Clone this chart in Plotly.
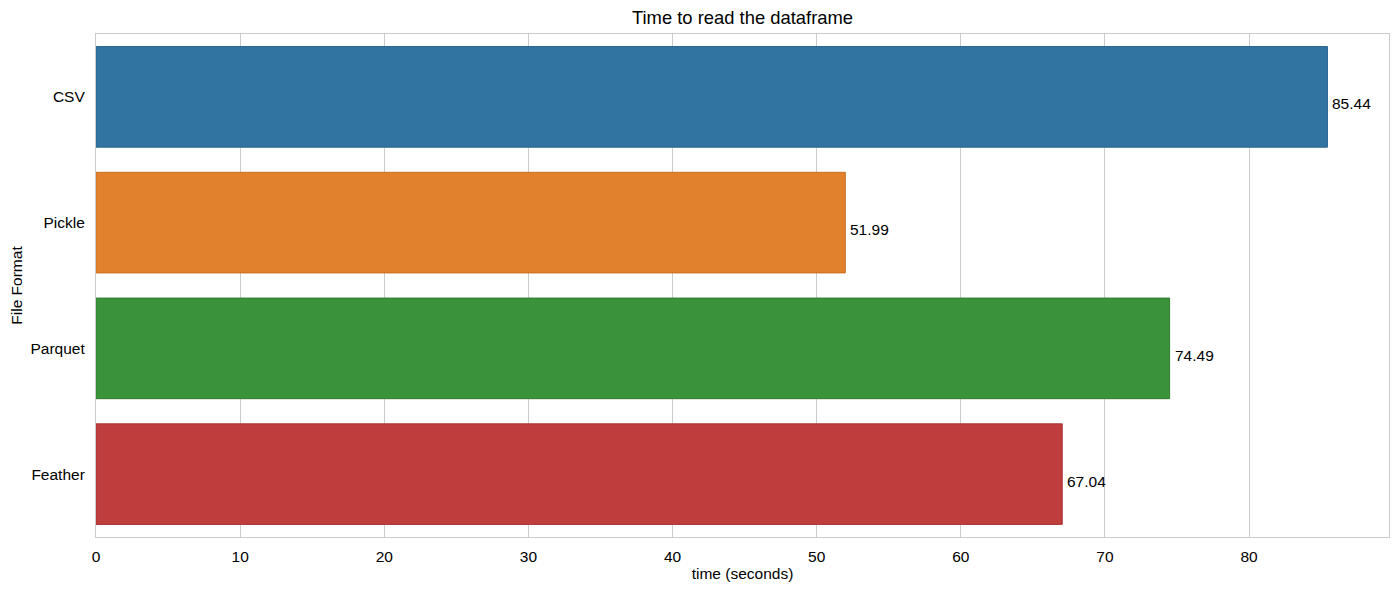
import plotly.graph_objects as go

formats = ["CSV", "Pickle", "Parquet", "Feather"]
times = [85.44, 51.99, 74.49, 67.04]
colors = ["#3274a1", "#e1812c", "#3a923a", "#c03d3e"]
edge_colors = ["#2a6390", "#c86f22", "#2f7d2f", "#a83334"]
x_ticks = [0, 10, 20, 30, 40, 50, 60, 70, 80]

FONT = "Liberation Sans, Arial, sans-serif"
FS = 15.5

fig = go.Figure()
fig.add_trace(go.Bar(
    y=formats, x=times, orientation="h",
    marker=dict(color=colors, line=dict(color=edge_colors, width=1)),
    width=0.8, showlegend=False,
))

for f, t in zip(formats, times):
    fig.add_annotation(x=t, y=f, text=f"{t:.2f}", showarrow=False,
                       xanchor="left", yanchor="middle", xshift=3, yshift=-7,
                       font=dict(family=FONT, size=FS, color="#000"))

# page has an 8px body margin; compensate so the plot lands where the reference has it
fig.update_layout(
    width=1400, height=594,
    margin=dict(l=88, r=19, t=26, b=65, autoexpand=False),
    paper_bgcolor="white", plot_bgcolor="white",
    font=dict(family=FONT, size=FS, color="#000"),
    title=dict(text="Time to read the dataframe", x=(88 + 1381) / 2 / 1400, xanchor="center",
               y=1 - 9.5 / 594, yanchor="middle",
               font=dict(family=FONT, size=18.4, color="#000")),
    bargap=0.2,
)
fig.update_xaxes(
    range=[0, 85.44 * 1.05], tickvals=x_ticks, automargin=False,
    showgrid=True, gridcolor="#cccccc", gridwidth=1.2,
    showline=True, linecolor="#cccccc", linewidth=1.2, mirror=True,
    zeroline=False, ticks="", ticklabelstandoff=5,
    title=dict(text="time (seconds)", standoff=4, font=dict(size=FS)),
)
fig.update_yaxes(
    categoryorder="array", categoryarray=formats,
    range=[3.5, -0.5], automargin=False,
    showgrid=False, showline=True, linecolor="#cccccc", linewidth=1.2, mirror=True,
    zeroline=False, ticks="", ticklabelstandoff=7,
    title=dict(text="File Format", standoff=4, font=dict(size=FS)),
)

fig.write_html("out.html")
